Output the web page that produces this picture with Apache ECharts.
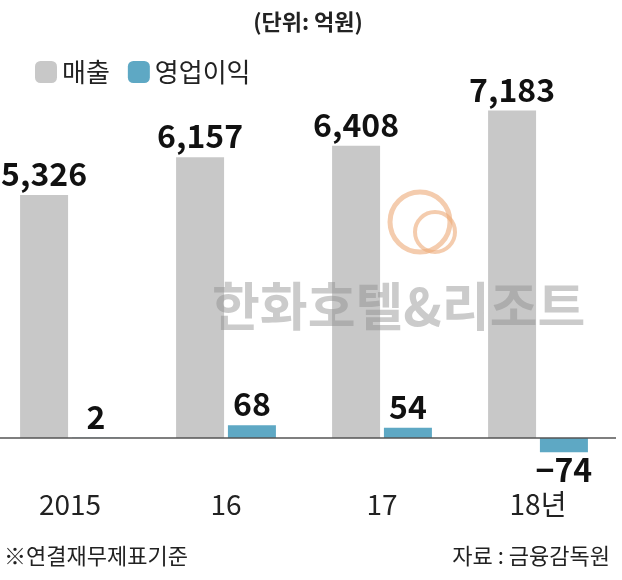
<!DOCTYPE html>
<html><head><meta charset="utf-8">
<script src="https://cdn.jsdelivr.net/npm/echarts@6/dist/echarts.min.js"></script>
<style>html,body{margin:0;padding:0;background:#fff;overflow:hidden}#c{width:632px;height:580px;margin-left:-8px}</style>
</head><body><div id="c"></div>
<script>
var years = ['2015', '16', '17', '18년'];
var sales = [5326, 6157, 6408, 7183];
var profit = [2, 68, 54, -74];

var chart = echarts.init(document.getElementById('c'));
var font = '"Noto Sans CJK KR", sans-serif';

chart.setOption({
  animation: false,
  textStyle: { fontFamily: font },
  title: {
    text: '(단위: 억원)', left: 'center', top: 6,
    textStyle: { fontSize: 22, fontWeight: 'bold', color: '#222', fontFamily: font }
  },
  legend: {
    left: 38, top: 54, itemWidth: 22, itemHeight: 22, itemGap: 18,
    textStyle: { fontSize: 26, color: '#222', fontFamily: font },
    data: ['매출', '영업이익']
  },
  graphic: [
    { type: 'circle', z: 100, shape: { cx: 428, cy: 222, r: 30 }, style: { fill: 'none', stroke: 'rgba(236,170,120,0.6)', lineWidth: 5 } },
    { type: 'circle', z: 100, shape: { cx: 443, cy: 232, r: 20 }, style: { fill: 'none', stroke: 'rgba(236,170,120,0.6)', lineWidth: 4 } },
    { type: 'text', z: 100, left: 220, top: 280, silent: true,
      style: { text: '한화호텔&리조트', fontSize: 52, fontWeight: 'bold', fill: 'rgba(140,140,140,0.45)', fontFamily: font } },
    { type: 'text', left: 12, top: 545, style: { text: '※연결재무제표기준', fontSize: 22, fill: '#222', fontFamily: font } },
    { type: 'text', right: 14, top: 545, style: { text: '자료 : 금융감독원', fontSize: 22, fill: '#222', fontFamily: font } }
  ],
  grid: { left: 0, right: 8, top: 100, bottom: 110 },
  xAxis: {
    type: 'category', data: years,
    axisLine: { show: false }, axisTick: { show: false },
    axisLabel: { fontSize: 28, color: '#222', margin: 20, fontFamily: font }
  },
  yAxis: [
    { type: 'value', min: -702, max: 7412, show: false, splitLine: { show: false } },
    { type: 'value', min: -168, max: 1779, show: false, splitLine: { show: false } }
  ],
  series: [
    {
      name: '매출', type: 'bar', data: sales, barWidth: 48, barGap: '8%',
      itemStyle: { color: '#c8c8c8' },
      label: { show: true, position: 'top', fontSize: 32, fontWeight: 'bold', color: '#111',
        formatter: function (p) { return p.value.toLocaleString('en-US'); } },
      markLine: { silent: true, symbol: 'none', label: { show: false },
        lineStyle: { color: '#555', type: 'solid', width: 1.5 }, data: [{ yAxis: 0 }] }
    },
    {
      name: '영업이익', type: 'bar', yAxisIndex: 1, barWidth: 48,
      data: profit.map(function (v) { return v < 0 ? { value: v, label: { position: 'bottom', distance: 2 } } : v; }),
      itemStyle: { color: '#5ea8c4' },
      label: { show: true, position: 'top', fontSize: 32, fontWeight: 'bold', color: '#111',
        formatter: function (p) { return p.value < 0 ? '−' + Math.abs(p.value) : p.value; } }
    }
  ]
});
</script></body></html>
